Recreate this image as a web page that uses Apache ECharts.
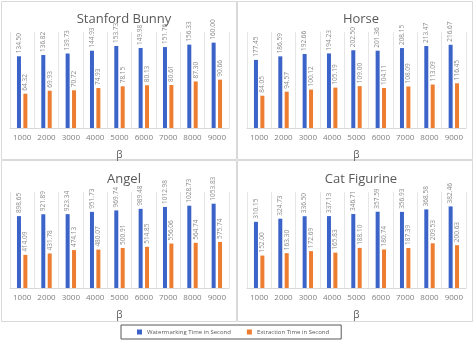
<!DOCTYPE html>
<html><head><meta charset="utf-8">
<script src="https://cdn.jsdelivr.net/npm/echarts@6/dist/echarts.min.js"></script>
<style>html,body{margin:0;padding:0;background:#fff}#c{width:474px;height:348px}</style>
</head><body><div id="c"></div>
<script>
const categories = ['1000','2000','3000','4000','5000','6000','7000','8000','9000'];
const titles = ['Stanford Bunny','Horse','Angel','Cat Figurine'];
const bunnyWatermark = [134.50,136.82,139.73,144.93,153.73,149.98,151.76,156.33,160.00];
const bunnyExtract = [64.32,69.93,70.72,74.93,78.15,80.13,80.61,87.30,90.66];
const horseWatermark = [177.45,186.59,192.66,194.23,202.50,201.36,208.15,213.47,216.67];
const horseExtract = [84.05,94.57,100.12,105.19,109.00,104.11,108.09,113.09,116.45];
const angelWatermark = [898.65,921.89,923.34,951.73,969.74,989.48,1012.98,1028.73,1053.83];
const angelExtract = [414.09,431.78,474.13,480.07,500.91,514.85,556.06,564.74,575.74];
const catWatermark = [310.15,324.73,336.50,337.13,346.71,357.59,356.93,368.58,382.46];
const catExtract = [152.00,163.30,172.69,165.83,188.10,180.74,187.39,209.53,200.63];
const seriesNames = ['Watermarking Time in Second','Extraction Time in Second'];
const axisMax = [180,250,1200,450];

const panelData = [[bunnyWatermark,bunnyExtract],[horseWatermark,horseExtract],[angelWatermark,angelExtract],[catWatermark,catExtract]];
const grids = [
  {left:10,top:32,width:219,height:96},
  {left:247,top:32,width:219,height:96},
  {left:10,top:192,width:219,height:96},
  {left:247,top:192,width:219,height:96}
];
const titlePos = [{x:119,y:8},{x:356,y:8},{x:119,y:168},{x:356,y:168}];
const colors = ['#3c64c8','#ed7d31'];
const FONT = 'Open Sans';

const option = {
  animation:false,
  color: colors,
  title: titles.map((t,i)=>({text:t,left:titlePos[i].x,top:titlePos[i].y,textAlign:'center',
    textStyle:{fontFamily:FONT,fontSize:13,fontWeight:'normal',color:'#595959'}})),
  graphic: [
    {type:'rect',shape:{x:1.5,y:1.5,width:235,height:158},style:{fill:'none',stroke:'#d9d9d9',lineWidth:1}},
    {type:'rect',shape:{x:237.5,y:1.5,width:235,height:158},style:{fill:'none',stroke:'#d9d9d9',lineWidth:1}},
    {type:'rect',shape:{x:1.5,y:160.5,width:235,height:161},style:{fill:'none',stroke:'#d9d9d9',lineWidth:1}},
    {type:'rect',shape:{x:237.5,y:160.5,width:235,height:161},style:{fill:'none',stroke:'#d9d9d9',lineWidth:1}}
  ],
  legend: {
    data: seriesNames, left:121, top:325, orient:'horizontal',
    borderColor:'#595959', borderWidth:1, padding:[4,12,4,16],
    icon:'rect', itemWidth:5, itemHeight:5, itemGap:16,
    textStyle:{fontFamily:FONT,fontSize:6,color:'#595959'}
  },
  grid: grids,
  xAxis: grids.map((g,i)=>({type:'category',gridIndex:i,data:categories,
    name:'β',nameLocation:'middle',nameGap:22,
    nameTextStyle:{fontFamily:FONT,fontSize:10,color:'#595959'},
    axisLine:{lineStyle:{color:'#d9d9d9'}},axisTick:{show:false},
    axisLabel:{fontFamily:FONT,fontSize:8,color:'#7f7f7f',margin:6},
    splitLine:{show:true,interval:0,lineStyle:{color:'#e6e6e6'}}})),
  yAxis: grids.map((g,i)=>({type:'value',gridIndex:i,min:0,max:axisMax[i],show:false,splitLine:{show:false}})),
  series: []
};
panelData.forEach((pair,i)=>{
  pair.forEach((vals,k)=>{
    option.series.push({
      type:'bar', name:seriesNames[k], xAxisIndex:i, yAxisIndex:i,
      data: vals, barWidth:4, barGap:'60%',
      itemStyle:{color:colors[k]},
      label:{show:true,position:'top',rotate:90,align:'left',verticalAlign:'middle',distance:3,
        fontFamily:FONT,fontSize:6.5,color:'#8c8c8c',formatter:p=>p.value.toFixed(2)}
    });
  });
});
echarts.init(document.getElementById('c')).setOption(option);
</script></body></html>
